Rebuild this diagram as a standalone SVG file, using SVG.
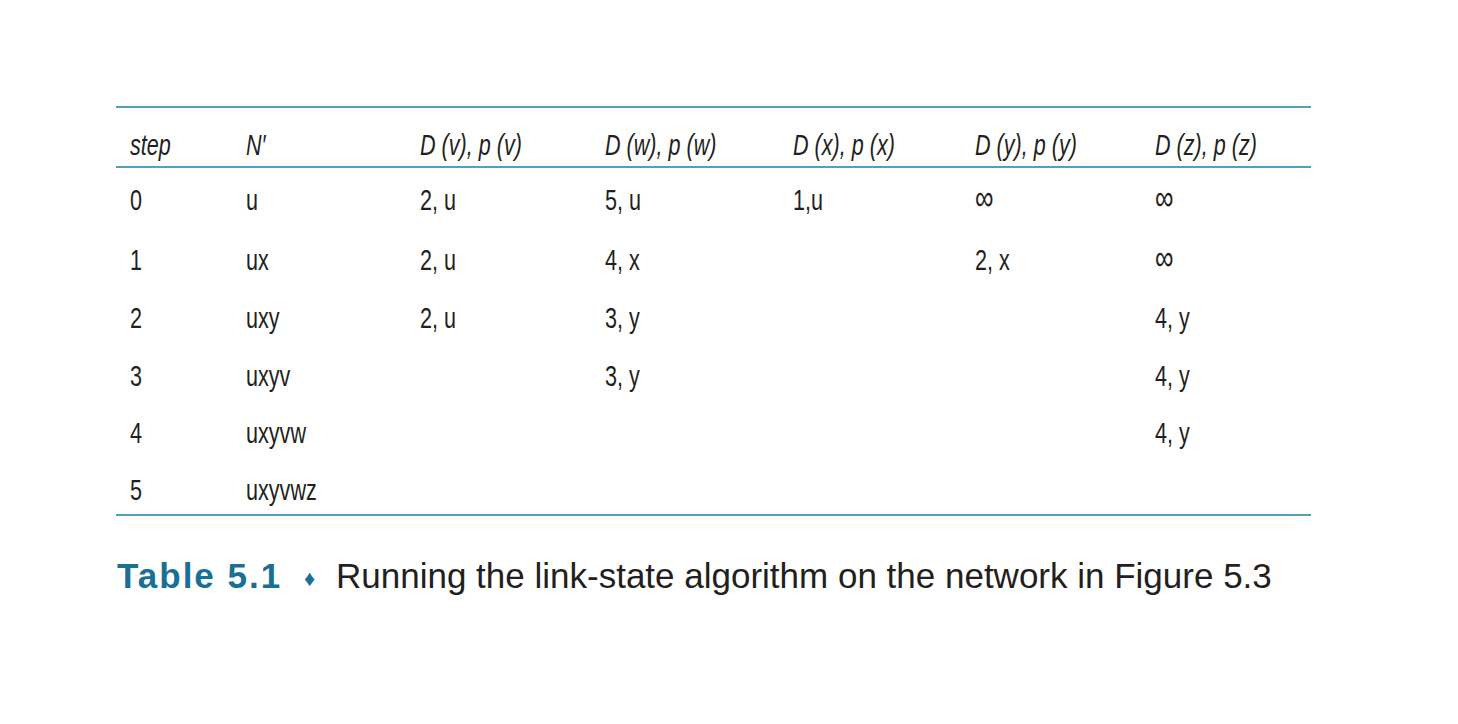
<svg xmlns="http://www.w3.org/2000/svg" width="1458" height="724" viewBox="0 0 1458 724">
<style>
.r{stroke:#1a7fa8;stroke-width:1.6}
text{font-family:"Liberation Sans",sans-serif;font-size:30px;fill:#231f20}
.h{font-style:italic}
.inf{font-size:36px}
.cap{font-family:"Liberation Sans",sans-serif;font-size:35px}
.tb{font-weight:bold;fill:#1a6f97;letter-spacing:2px}
</style>
<rect width="1458" height="724" fill="#fff"/>
<g id="rules">
<line class="r" x1="116" y1="107" x2="1311" y2="107"/>
<line class="r" x1="116" y1="167" x2="1311" y2="167"/>
<line class="r" x1="116" y1="515" x2="1311" y2="515"/>
</g>
<g transform="scale(0.72,1)">
<g id="header">
<text class="h" x="180.6" y="155">step</text>
<text class="h" x="341.7" y="155">N′</text>
<text class="h" x="583.3" y="155">D (v), p (v)</text>
<text class="h" x="840.3" y="155">D (w), p (w)</text>
<text class="h" x="1101.4" y="155">D (x), p (x)</text>
<text class="h" x="1354.2" y="155">D (y), p (y)</text>
<text class="h" x="1604.2" y="155">D (z), p (z)</text>
</g>
<g id="rows">
<text x="180.6" y="210">0</text><text x="341.7" y="210">u</text><text x="583.3" y="210">2, u</text><text x="840.3" y="210">5, u</text><text x="1101.4" y="210">1,u</text><text class="inf" x="1354.2" y="210">∞</text><text class="inf" x="1604.2" y="210">∞</text>
<text x="180.6" y="270">1</text><text x="341.7" y="270">ux</text><text x="583.3" y="270">2, u</text><text x="840.3" y="270">4, x</text><text x="1354.2" y="270">2, x</text><text class="inf" x="1604.2" y="270">∞</text>
<text x="180.6" y="328">2</text><text x="341.7" y="328">uxy</text><text x="583.3" y="328">2, u</text><text x="840.3" y="328">3, y</text><text x="1604.2" y="328">4, y</text>
<text x="180.6" y="386">3</text><text x="341.7" y="386">uxyv</text><text x="840.3" y="386">3, y</text><text x="1604.2" y="386">4, y</text>
<text x="180.6" y="443">4</text><text x="341.7" y="443">uxyvw</text><text x="1604.2" y="443">4, y</text>
<text x="180.6" y="500">5</text><text x="341.7" y="500">uxyvwz</text>
</g>
</g>
<g id="caption">
<text class="cap tb" x="117" y="588">Table 5.1</text>
<text x="304" y="586" style="font-size:22px;fill:#1a6f97">♦</text>
<text class="cap" x="336" y="588">Running the link-state algorithm on the network in Figure 5.3</text>
</g>
</svg>
